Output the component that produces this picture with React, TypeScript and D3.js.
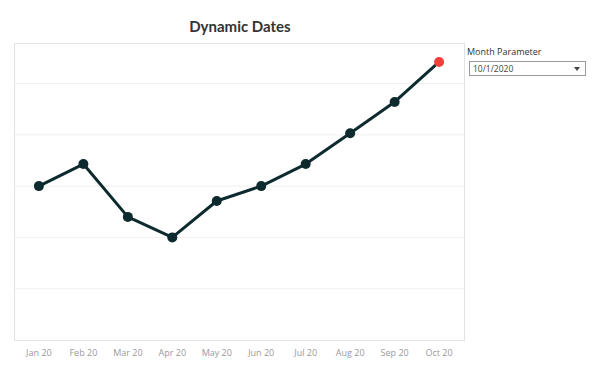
import React, { useEffect, useRef } from 'react';
import * as d3 from 'd3';

const months = ["Jan 20", "Feb 20", "Mar 20", "Apr 20", "May 20", "Jun 20", "Jul 20", "Aug 20", "Sep 20", "Oct 20"];
const values = [300, 343, 240, 200, 271, 300, 343, 403, 464, 542];
const gridTicks = [100, 200, 300, 400, 500];

const App: React.FC = () => {
  const svgRef = useRef<SVGSVGElement>(null);

  useEffect(() => {
    if (!svgRef.current) return;
    const svg = d3.select(svgRef.current);
    svg.selectAll("*").remove();

    const plot = { left: 14, top: 43, right: 464, bottom: 340 };
    const font = "'Open Sans', Lato, sans-serif";

    const x = d3.scalePoint<string>()
      .domain(months)
      .range([plot.left, plot.right])
      .padding(0.56);

    const y = d3.scaleLinear()
      .domain([0, 579])
      .range([plot.bottom, plot.top]);

    // Title
    svg.append("text")
      .attr("x", 240)
      .attr("y", 32)
      .attr("text-anchor", "middle")
      .attr("font-family", "Lato, 'Open Sans', sans-serif")
      .attr("font-weight", 700)
      .attr("font-size", 15)
      .attr("fill", "#333")
      .text("Dynamic Dates");

    // Gridlines
    svg.append("g")
      .selectAll("line")
      .data(gridTicks)
      .enter()
      .append("line")
      .attr("x1", plot.left)
      .attr("x2", plot.right)
      .attr("y1", d => y(d))
      .attr("y2", d => y(d))
      .attr("stroke", "#f0f0f0")
      .attr("stroke-width", 1);

    // Plot border
    svg.append("rect")
      .attr("x", plot.left + 0.5)
      .attr("y", plot.top + 0.5)
      .attr("width", plot.right - plot.left)
      .attr("height", plot.bottom - plot.top)
      .attr("fill", "none")
      .attr("stroke", "#e2e2e2");

    // X labels
    svg.append("g")
      .selectAll("text")
      .data(months)
      .enter()
      .append("text")
      .attr("x", d => x(d)!)
      .attr("y", 356)
      .attr("text-anchor", "middle")
      .attr("font-family", font)
      .attr("font-size", 9)
      .attr("fill", "#9a9a9a")
      .text(d => d);

    const data = months.map((m, i) => ({ m, v: values[i] }));

    const line = d3.line<{ m: string; v: number }>()
      .x(d => x(d.m)!)
      .y(d => y(d.v));

    svg.append("path")
      .datum(data)
      .attr("d", line)
      .attr("fill", "none")
      .attr("stroke", "#0d2a2e")
      .attr("stroke-width", 3)
      .attr("stroke-linejoin", "round");

    svg.append("g")
      .selectAll("circle")
      .data(data)
      .enter()
      .append("circle")
      .attr("cx", d => x(d.m)!)
      .attr("cy", d => y(d.v))
      .attr("r", 5)
      .attr("fill", (d, i) => i === data.length - 1 ? "#f2413b" : "#0d2a2e");

    // Parameter control
    svg.append("text")
      .attr("x", 467)
      .attr("y", 55)
      .attr("font-family", font)
      .attr("font-size", 9)
      .attr("fill", "#333")
      .text("Month Parameter");

    svg.append("rect")
      .attr("x", 469.5)
      .attr("y", 61.5)
      .attr("width", 116)
      .attr("height", 14)
      .attr("fill", "#fff")
      .attr("stroke", "#9a9a9a");

    svg.append("text")
      .attr("x", 473)
      .attr("y", 72)
      .attr("font-family", font)
      .attr("font-size", 8.5)
      .attr("fill", "#444")
      .text("10/1/2020");

    svg.append("path")
      .attr("d", "M574,67 L580,67 L577,71 Z")
      .attr("fill", "#444");
  }, []);

  return (
    <svg
      ref={svgRef}
      width={600}
      height={391}
      style={{ position: "absolute", left: 0, top: 0, background: "#fff" }}
    />
  );
};

export default App;
